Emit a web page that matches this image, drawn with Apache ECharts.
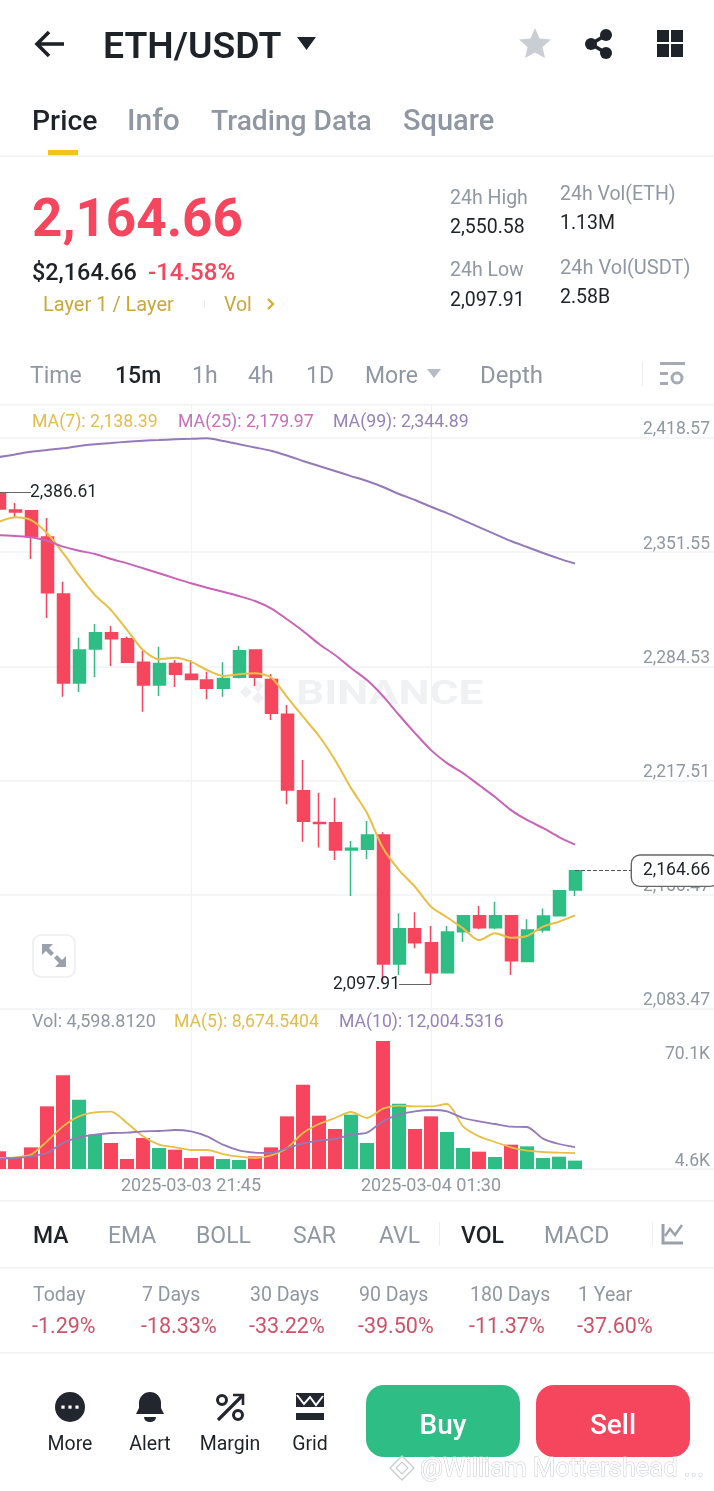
<!DOCTYPE html>
<html>
<head>
<meta charset="utf-8">
<style>html,body{margin:0;padding:0;background:#fff;overflow:hidden}#c{width:714px;height:1491px}</style>
<script src="https://cdn.jsdelivr.net/npm/echarts@6/dist/echarts.min.js"></script>
</head>
<body>
<div id="c"></div>
<script>
const times = ['18:45','19:00','19:15','19:30','19:45','20:00','20:15','20:30','20:45','21:00','21:15','21:30','2025-03-03 21:45','22:00','22:15','22:30','22:45','23:00','23:15','23:30','23:45','00:00','00:15','00:30','00:45','01:00','01:15','2025-03-04 01:30','01:45','02:00','02:15','02:30','02:45','03:00','03:15','03:30','03:45'];
const blankSlots = ['','','','','','','','',''];
const open  = [2386.0,2376.3,2375.9,2360.5,2327.0,2274.8,2294.7,2304.3,2300.8,2286.9,2273.6,2286.3,2279.9,2276.5,2271.7,2278.1,2294.1,2276.9,2256.4,2211.6,2192.9,2192.8,2176.8,2177.2,2185.6,2109.9,2130.6,2122.4,2104.8,2128.8,2138.2,2131.2,2138.2,2111.4,2129.8,2138.2,2153.3];
const close = [2376.9,2375.1,2360.6,2327.8,2274.8,2294.1,2304.3,2300.8,2286.9,2273.6,2286.3,2279.9,2276.9,2271.7,2277.5,2293.7,2278.1,2257.0,2212.0,2193.6,2192.3,2176.8,2177.8,2185.6,2109.9,2130.6,2122.4,2104.8,2128.6,2138.2,2131.2,2138.2,2111.8,2129.8,2138.0,2152.9,2164.66];
const low   = [2376.9,2372.2,2347.5,2312.9,2266.7,2269.5,2278.3,2284.7,2286.5,2257.9,2267.1,2272.4,2276.9,2265.2,2266.7,2277.5,2273.0,2253.1,2203.6,2181.6,2178.3,2170.9,2149.8,2171.3,2099.5,2103.4,2119.1,2097.91,2104.4,2123.0,2130.2,2130.2,2103.4,2111.0,2128.2,2138.2,2149.8];
const high  = [2386.61,2380.4,2376.3,2371.6,2334.2,2301.4,2309.4,2308.2,2301.9,2293.7,2296.1,2288.3,2288.3,2281.4,2286.9,2296.5,2294.1,2280.1,2261.9,2229.6,2210.4,2207.5,2182.0,2193.8,2187.2,2139.6,2140.2,2132.2,2132.2,2138.2,2143.9,2146.4,2138.2,2136.1,2142.5,2152.9,2165.0];
const ma7  = [2369.4,2372.0,2370.4,2362.8,2351.1,2338.1,2326.4,2317.6,2305.9,2294.1,2288.7,2289.6,2287.3,2282.4,2278.9,2279.9,2280.5,2278.1,2266.7,2255.0,2243.7,2229.6,2213.1,2198.5,2177.9,2165.0,2155.2,2143.5,2137.3,2130.8,2123.9,2127.9,2125.3,2126.3,2131.8,2134.7,2138.39];
const ma25 = [2361.6,2361.0,2360.3,2358.3,2354.8,2352.4,2350.5,2347.6,2345.0,2342.1,2339.2,2336.2,2333.3,2330.7,2328.3,2325.8,2322.9,2318.6,2312.2,2305.3,2297.7,2291.2,2283.6,2276.5,2267.1,2256.0,2245.4,2235.4,2227.8,2221.9,2214.9,2207.9,2200.2,2194.4,2189.7,2184.4,2179.97];
const ma99 = [2407.4,2408.9,2410.5,2411.5,2412.5,2413.9,2414.9,2415.6,2416.4,2417.0,2417.4,2417.8,2418.1,2418.4,2416.8,2414.9,2413.0,2411.1,2408.3,2405.1,2402.1,2399.2,2396.2,2393.3,2389.8,2385.7,2382.2,2378.2,2374.5,2370.4,2366.3,2362.2,2358.1,2354.6,2351.1,2347.8,2344.89];
const volume = [9680,6390,11860,34320,51290,37970,18800,14240,5480,16970,11500,10590,6020,6940,5480,4930,6940,11860,28840,46180,29200,21900,29750,14240,70100,35780,21900,28840,20260,11500,9490,6570,13330,12410,6020,6750,4598.81];
const volMa5 = [6020,6390,7850,15150,23360,28840,31030,31400,25190,17890,13320,11860,10400,10400,8210,6750,6020,7480,11500,19710,24640,27930,31210,27930,33040,34680,34320,34320,35590,23360,17890,14780,11860,10040,9310,8940,8674.54];
const volMa10 = [5660,6020,6940,8760,14240,17340,18800,19710,19900,20630,20810,21360,20630,17890,13320,10220,8940,8760,11500,13870,15520,16430,18800,19900,26100,29750,31580,32310,31580,27930,26100,24640,23180,23000,16610,13690,12004.53];
const priceTicks = [2083.47,2150.47,2217.51,2284.53,2351.55,2418.57];
const volumeTicks = [4600,70100];
const highLabel = '2,386.61', lowLabel = '2,097.91', lastLabel = '2,164.66';

const UP='#2ebd85', DOWN='#f6465d', INK='#1e2329', GRAY='#8f97a3', LINE='#f1f2f4';
const FONT='Roboto, "Noto Sans", sans-serif';
const cats = times.concat(blankSlots);
const candle = open.map((o,i)=>[o,close[i],low[i],high[i]]);
const isTick = i => i===12 || i===27;

const g=[];
const t=(x,y,text,size,fill,weight,align,extra)=>g.push(Object.assign({type:'text',silent:true,z:10,style:{x,y:y+size*0.09,text,fontSize:size,fontFamily:FONT,fontWeight:weight||400,fill,textAlign:align||'left',textVerticalAlign:'middle'}},extra||{}));
const rect=(x,y,w,h,fill,r)=>g.push({type:'rect',silent:true,shape:{x,y,width:w,height:h,r:r||0},style:{fill}});
const hline=(y)=>rect(0,y,714,1.6,LINE);
const poly=(points,fill)=>g.push({type:'polygon',silent:true,shape:{points},style:{fill}});
const stroke=(points,color,w)=>g.push({type:'polyline',silent:true,shape:{points},style:{stroke:color,lineWidth:w,fill:null,lineJoin:'miter'}});
const circle=(cx,cy,r,fill,st,lw)=>g.push({type:'circle',silent:true,shape:{cx,cy,r},style:{fill:fill,stroke:st||null,lineWidth:lw||0}});

// header
stroke([[64,44],[37,44]],INK,3.6); stroke([[49,32],[37,44],[49,56]],INK,3.6);
t(103,45,'ETH/USDT',37.3,INK,600);
poly([[297,37],[316,37],[306.5,50]],INK);
poly([[535,28],[539.5,38.5],[551,39.5],[542.5,47],[545,58],[535,52.5],[525,58],[527.5,47],[519,39.5],[530.5,38.5]],'#c9ced4');
stroke([[606,35],[591,44],[606,53]],INK,3.5); circle(606,35,6,INK); circle(591,44,6,INK); circle(606,53,6,INK);
rect(657,30,12,12,INK); rect(671,30,12,12,INK); rect(657,44,12,13,INK); rect(671,44,12,13,INK);
// tabs
t(32,120,'Price',28.4,INK,500); t(127,120,'Info',30,GRAY,500); t(211,120,'Trading Data',28.2,GRAY,500); t(403,120,'Square',29,GRAY,500);
rect(48,150,30,5.5,'#f0c419'); hline(155.5);
// price block
t(32,218,'2,164.66',53,DOWN,700);
t(32,272,'$2,164.66',23.4,INK,500); t(148,272,'-14.58%',24,DOWN,500);
t(43,304,'Layer 1 / Layer',20,'#c8a83a'); rect(204,300,1,8,'#e8e9eb'); t(224,304,'Vol',19.5,'#c8a83a');
stroke([[268,299],[273,304],[268,309]],'#d6a92c',2.2);
t(450,197,'24h High',19.5,GRAY); t(450,226,'2,550.58',19.5,INK); t(560,193,'24h Vol(ETH)',19.5,GRAY); t(560,222,'1.13M',19.5,INK);
t(450,269,'24h Low',19.5,GRAY); t(450,299,'2,097.91',19.5,INK); t(560,267,'24h Vol(USDT)',20,GRAY); t(560,296,'2.58B',19.5,INK);
// timeframe row
t(30,375,'Time',23,GRAY); t(115,375,'15m',23,INK,500); t(192,375,'1h',23,GRAY); t(248,375,'4h',23,GRAY); t(306,375,'1D',23,GRAY); t(365,375,'More',23,GRAY);
poly([[427,369],[441,369],[434,378]],'#b6bcc4'); t(480,375,'Depth',24,GRAY);
rect(642,362,1,24,'#eceef0');
rect(660,362,25,3,'#a4abb4'); rect(660,372,8,3,'#a4abb4'); rect(660,382,8,3,'#a4abb4'); circle(677,378,5,null,'#a4abb4',3);
hline(404);
// legends
t(32,421,'MA(7): 2,138.39',17.7,'#e3bc4c'); t(178,421,'MA(25): 2,179.97',17.7,'#c76fb9'); t(333,421,'MA(99): 2,344.89',17.7,'#9682ba');
t(32,1021,'Vol: 4,598.8120',18,GRAY); t(174,1021,'MA(5): 8,674.5404',17.6,'#e3bc4c'); t(339,1021,'MA(10): 12,004.5316',17.6,'#9682ba');
// watermark
g.push({type:'text',silent:true,x:296,y:692,scaleX:1.3,style:{x:0,y:3,text:'BINANCE',fontSize:34,fontFamily:FONT,fontWeight:700,fill:'#eff1f2',textVerticalAlign:'middle'}});
poly([[258,680],[264,686],[258,692],[252,686]],'#eff1f2'); poly([[246,686],[252,692],[246,698],[240,692]],'#eff1f2'); poly([[258,692],[264,698],[258,704],[252,698]],'#eff1f2'); poly([[270,686],[276,692],[270,698],[264,692]],'#eff1f2');
// expand button
g.push({type:'rect',silent:true,shape:{x:33,y:935,width:42,height:42,r:8},style:{fill:'#fff',stroke:'#eceef0',lineWidth:1.6}});
poly([[42,944],[53,944],[49,948],[54,953],[51,956],[46,951],[42,955]],'#9aa1ab');
poly([[66,967],[55,967],[59,963],[54,958],[57,955],[62,960],[66,956]],'#9aa1ab');
// lower rows
hline(1200);
t(33,1235,'MA',23,INK,500); t(108,1235,'EMA',23,GRAY); t(196,1235,'BOLL',23,GRAY); t(293,1235,'SAR',23,GRAY); t(379,1235,'AVL',23,GRAY);
rect(439,1222,1,24,'#eceef0'); t(461,1235,'VOL',23,INK,500); t(544,1235,'MACD',23,GRAY); rect(652,1222,1,24,'#eceef0');
stroke([[663,1224],[663,1243],[683,1243]],'#9aa1ab',3); stroke([[665,1236],[670,1229],[675,1235],[682,1225]],'#9aa1ab',2.4);
hline(1267);
const days=[[33,'Today','-1.29%'],[142,'7 Days','-18.33%'],[250,'30 Days','-33.22%'],[359,'90 Days','-39.50%'],[470,'180 Days','-11.37%'],[578,'1 Year','-37.60%']];
days.forEach(d=>{t(d[0],1294,d[1],19.5,GRAY); t(d[0]-1,1326,d[2],21.5,'#cf5269');});
hline(1352);
// bottom bar
circle(70,1407,15,'#22262e'); [63,70,77].forEach(x=>rect(x-1.6,1405.5,3.2,3.2,'#fff'));
g.push({type:'rect',silent:true,shape:{x:139,y:1392,width:22,height:19,r:[11,11,0,0]},style:{fill:'#22262e'}});
poly([[139,1408],[161,1408],[164,1414],[136,1414]],'#22262e');
g.push({type:'rect',silent:true,shape:{x:144,y:1417,width:12,height:5,r:[0,0,6,6]},style:{fill:'#22262e'}});
circle(222,1400,4.5,null,'#22262e',3); circle(238,1415,4.5,null,'#22262e',3); stroke([[218,1420],[242,1396]],'#22262e',3.2); stroke([[233,1395],[243,1395],[243,1405]],'#22262e',2.6);
rect(296,1393,28,14,'#22262e'); stroke([[297,1395],[304,1404],[310,1397],[316,1405],[323,1396]],'#fff',2); rect(296,1413,28,7,'#22262e');
t(70,1443,'More',19.5,INK,400,'center'); t(150,1443,'Alert',19.5,INK,400,'center'); t(230,1443,'Margin',19.5,INK,400,'center'); t(310,1443,'Grid',19.5,INK,400,'center');
rect(366,1385,154,72,UP,18); rect(536,1385,154,72,DOWN,18);
t(443,1424,'Buy',28,'#fff',500,'center'); t(613,1424,'Sell',28,'#fff',500,'center');
stroke([[390,1468],[402,1456],[414,1468],[402,1480],[390,1468]],'#c8ccd0',1.4); stroke([[396,1468],[402,1462],[408,1468],[402,1474],[396,1468]],'#c8ccd0',1.2);
g.push({type:'text',silent:true,z:10,style:{x:420,y:1470,text:'@William Mottershead ...',fontSize:25.5,fontFamily:FONT,fill:'#fff',stroke:'#c4c8cd',lineWidth:1,textVerticalAlign:'middle'}});

const lineSeries=(name,data,color,x,y,w)=>({name,type:'line',xAxisIndex:x,yAxisIndex:y,data,showSymbol:false,smooth:0.25,lineStyle:{color,width:w||2},itemStyle:{color},silent:true,z:4});

const option={
  animation:false,
  backgroundColor:'#fff',
  textStyle:{fontFamily:FONT},
  graphic:{elements:g},
  grid:[
    {left:-9,width:736,top:405,height:604,outerBoundsMode:'none'},
    {left:-9,width:736,top:1009,height:160,outerBoundsMode:'none'}
  ],
  xAxis:[
    {type:'category',gridIndex:0,data:cats,axisLine:{show:false},axisTick:{show:false},axisLabel:{show:false},
     splitLine:{show:true,alignWithLabel:true,interval:(i)=>isTick(i),lineStyle:{color:LINE,width:1}}},
    {type:'category',gridIndex:1,data:cats,axisLine:{show:true,lineStyle:{color:LINE,width:1.5}},axisTick:{show:false},
     axisLabel:{show:true,interval:(i)=>isTick(i),color:GRAY,fontSize:18,margin:8,fontFamily:FONT},
     splitLine:{show:true,alignWithLabel:true,interval:(i)=>isTick(i),lineStyle:{color:LINE,width:1}}}
  ],
  yAxis:[
    {type:'value',gridIndex:0,position:'right',min:2083.47,max:2437.94,axisLine:{show:false},
     axisTick:{show:false,customValues:priceTicks},
     axisLabel:{inside:true,margin:17,customValues:priceTicks,color:GRAY,fontSize:17.5,lineHeight:16,fontFamily:FONT,verticalAlign:'bottom',
       formatter:v=>v.toLocaleString('en-US',{minimumFractionDigits:2,maximumFractionDigits:2})},
     splitLine:{show:true,lineStyle:{color:LINE,width:1.5}}},
    {type:'value',gridIndex:1,position:'right',min:0,max:87616,axisLine:{show:false},
     axisTick:{show:false,customValues:volumeTicks},splitLine:{show:false},
     axisLabel:{inside:true,margin:17,customValues:volumeTicks,color:GRAY,fontSize:17.5,fontFamily:FONT,
       formatter:v=>v===70100?'{low|70.1K}':'{base|4.6K}',
       rich:{low:{color:GRAY,fontSize:17.5,fontFamily:FONT,padding:[28,0,0,0]},base:{color:GRAY,fontSize:17.5,fontFamily:FONT,padding:[2,0,0,0]}}}}
  ],
  series:[
    {name:'ETH/USDT',type:'candlestick',xAxisIndex:0,yAxisIndex:0,data:candle,barWidth:12.5,silent:true,z:3,
     itemStyle:{color:UP,color0:DOWN,borderColor:UP,borderColor0:DOWN,borderWidth:1.5},
     markLine:{silent:true,symbol:'none',animation:false,z:5,
       data:[
        [{coord:[0,2386.61],lineStyle:{color:'#666',width:1,type:'solid'},label:{show:true,position:'end',formatter:highLabel,color:INK,fontSize:17.5,fontFamily:FONT,distance:-1,padding:[8,0,0,0]}},{coord:[2,2386.61]}],
        [{coord:[27,2097.91],lineStyle:{color:'#666',width:1,type:'solid'},label:{show:true,position:'end',formatter:lowLabel,color:INK,fontSize:17.5,fontFamily:FONT,distance:-1,padding:[9,0,0,0]}},{coord:[25,2097.91]}],
        [{coord:[36,2164.66],lineStyle:{color:'#555',width:1,type:'dashed'},label:{show:true,position:'end',formatter:lastLabel,color:INK,fontSize:17.5,fontFamily:FONT,distance:-7,backgroundColor:'#fff',borderColor:'#666',borderWidth:1.4,borderRadius:8,padding:[11,8,1,11]}},{coord:[40,2164.66]}]
       ]}},
    lineSeries('MA(7)',ma7,'#e8bf45',0,0),
    lineSeries('MA(25)',ma25,'#c764b8',0,0),
    lineSeries('MA(99)',ma99,'#9579b8',0,0),
    {name:'Vol',type:'bar',xAxisIndex:1,yAxisIndex:1,barWidth:14,silent:true,z:3,
     data:volume.map((v,i)=>({value:v,itemStyle:{color:close[i]>=open[i]?UP:DOWN}}))},
    lineSeries('MA(5)',volMa5,'#e8bf45',1,1,1.8),
    lineSeries('MA(10)',volMa10,'#9579b8',1,1,1.8)
  ]
};
echarts.init(document.getElementById('c'),null,{width:714,height:1491}).setOption(option);
</script>
</body>
</html>
